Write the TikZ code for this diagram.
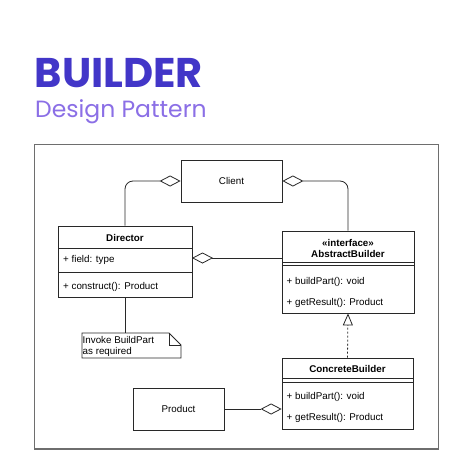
\documentclass[tikz,border=0pt]{standalone}
\usepackage{fontspec}
\setmainfont{Liberation Sans}
\newfontfamily\poppins{Poppins}
\usetikzlibrary{arrows.meta}
\definecolor{titleblue}{RGB}{66,54,200}
\definecolor{subpurple}{RGB}{139,111,230}
\definecolor{umlline}{RGB}{40,40,40}
\definecolor{framegray}{RGB}{110,110,110}
\tikzset{
  umlbox/.style={draw=umlline, line width=0.8pt, fill=white, inner sep=0pt},
  umltxt/.style={font=\fontsize{9.8}{11}\selectfont, inner sep=0pt, text=black},
  umlbold/.style={umltxt, font=\fontsize{9.8}{11}\selectfont\bfseries},
  conn/.style={draw=umlline, line width=0.8pt},
  aggr/.style={conn, -{Diamond[open, length=21pt, width=11pt, line width=0.8pt]}},
  realiz/.style={conn, dash pattern=on 2pt off 2pt, -{Triangle[open, length=12pt, width=10pt, line width=0.8pt]}}
}
\begin{document}
\begin{tikzpicture}[x=1pt, y=-1pt]
\useasboundingbox (0,0) rectangle (474,474);
\fill[white] (0,0) rectangle (474,474);

% title
\node[anchor=base west, inner sep=0pt, text=titleblue, font=\poppins\bfseries\fontsize{41.5}{42}\selectfont] (title) at (34.5,87) {BUILDER};
\node[anchor=base west, inner sep=0pt, text=subpurple, font=\poppins\fontsize{23.5}{24}\selectfont] (subtitle) at (35,117) {Design Pattern};

% frame
\draw[framegray, line width=1.3pt] (34.5,144.5) rectangle (438.5,449);

% Client
\node[umlbox, minimum width=101pt, minimum height=42pt] (client) at (231.5,181) {};
\node[umltxt] (clienttxt) at (client.center) {Client};

% Director
\node[umlbox, minimum width=134pt, minimum height=71pt] (director) at (125,261.5) {};
\draw[conn] (58,248) -- (192,248);
\draw[conn] (58,272) -- (192,272);
\node[umlbold] (dirtitle) at (125,237.5) {Director};
\node[umltxt, anchor=west] (dirfield) at (63,259.5) {+ field: type};
\node[umltxt, anchor=west] (dirmeth) at (63,286.5) {+ construct(): Product};

% AbstractBuilder
\node[umlbox, minimum width=132pt, minimum height=82pt] (ab) at (348,272) {};
\draw[conn] (282,262) -- (414,262);
\draw[conn] (282,265.5) -- (414,265.5);
\node[umlbold] (abstereo) at (348,242.5) {«interface»};
\node[umlbold] (abtitle) at (348,254) {AbstractBuilder};
\node[umltxt, anchor=west] (abm1) at (286.5,282) {+ buildPart(): void};
\node[umltxt, anchor=west] (abm2) at (286.5,302.5) {+ getResult(): Product};

% ConcreteBuilder
\node[umlbox, minimum width=131pt, minimum height=71pt] (cb) at (347.5,393.5) {};
\draw[conn] (282,378.5) -- (413,378.5);
\draw[conn] (282,382) -- (413,382);
\node[umlbold] (cbtitle) at (347.5,368.5) {ConcreteBuilder};
\node[umltxt, anchor=west] (cbm1) at (286.5,397) {+ buildPart(): void};
\node[umltxt, anchor=west] (cbm2) at (286.5,418) {+ getResult(): Product};

% Product
\node[umlbox, minimum width=91pt, minimum height=42pt] (product) at (178.5,409) {};
\node[umltxt] (producttxt) at (product.center) {Product};

% Note
\draw[conn, fill=white] (82,333) -- (169,333) -- (181,345) -- (181,358) -- (82,358) -- cycle;
\draw[conn] (169,333) -- (169,345) -- (181,345);
\coordinate (notetop) at (125,333);
\node[umltxt, anchor=west] (note1) at (82.5,340) {Invoke BuildPart};
\node[umltxt, anchor=west] (note2) at (82.5,351.5) {as required};

% connectors
\draw[aggr, rounded corners=8pt] (director.north) |- (client.west);
\draw[aggr, rounded corners=8pt] (ab.north) |- (client.east);
\coordinate (abjoin) at (282,258);
\coordinate (dirjoin) at (192,258);
\draw[aggr] (abjoin) -- (dirjoin);
\draw[conn] (director.south) -- (notetop);
\draw[realiz] (cb.north) -- (ab.south);
\draw[aggr] (product.east) -- (cb.west |- product.east);
\end{tikzpicture}
\end{document}
